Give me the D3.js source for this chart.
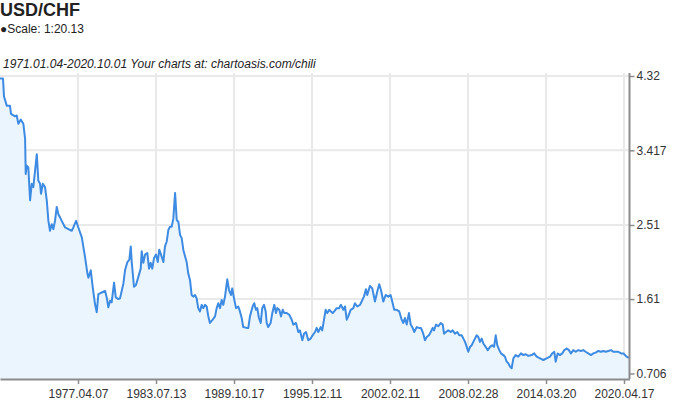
<!DOCTYPE html>
<html><head><meta charset="utf-8">
<script src="https://cdn.jsdelivr.net/npm/d3@7"></script>
<style>
body{margin:0;background:#fff}
svg{display:block}
text{font-family:Arial,"Liberation Sans",sans-serif}
</style>
</head><body>
<svg id="c" width="700" height="400"></svg>
<script>
const titleText = "USD/CHF";
const scaleText = "\u25CFScale: 1:20.13";
const subtitleText = "1971.01.04-2020.10.01 Your charts at: chartoasis.com/chili";
const startDate = "1971.01.04";
const endDate = "2020.10.01";
const xTickLabels = ["1977.04.07","1983.07.13","1989.10.17","1995.12.11","2002.02.11","2008.02.28","2014.03.20","2020.04.17"];
const yTickValues = [0.706, 1.61, 2.51, 3.417, 4.32];
const yTickLabels = ["0.706","1.61","2.51","3.417","4.32"];

// decimal years (time) and USD/CHF rates
const years = [
1971.01,1971.25,1971.33,1971.55,1971.81,1971.89,1972.21,1972.35,1972.48,1972.67,1972.88,1973.02,1973.07,1973.15,1973.28,1973.42,1973.55,1973.68,1973.82,1973.96,
1974.08,1974.22,1974.30,1974.44,1974.62,1974.76,1974.89,1975.02,1975.16,1975.29,1975.42,1975.56,1975.69,1975.83,1975.96,1976.23,1976.49,1976.76,1976.89,1977.11,
1977.29,1977.57,1977.83,1978.02,1978.10,1978.29,1978.45,1978.63,1978.77,1978.90,1979.17,1979.44,1979.57,1979.70,1979.84,1979.97,1980.16,1980.30,1980.50,1980.64,
1980.91,1981.04,1981.23,1981.39,1981.50,1981.58,1981.76,1981.92,1982.11,1982.30,1982.38,1982.51,1982.65,1982.83,1982.97,1983.10,1983.23,1983.37,1983.53,1983.67,
1983.79,1983.93,1984.12,1984.25,1984.39,1984.52,1984.65,1984.79,1984.92,1985.06,1985.19,1985.32,1985.46,1985.59,1985.72,1985.86,1985.99,1986.12,1986.26,1986.39,
1986.52,1986.66,1986.79,1986.92,1987.06,1987.20,1987.33,1987.46,1987.60,1987.73,1987.86,1988.08,1988.27,1988.40,1988.53,1988.67,1988.80,1988.93,1989.07,1989.25,
1989.39,1989.55,1989.65,1989.79,1989.95,1990.13,1990.26,1990.40,1990.52,1990.79,1990.92,1991.05,1991.26,1991.39,1991.52,1991.63,1991.76,1991.90,1992.02,1992.16,
1992.29,1992.37,1992.49,1992.68,1992.81,1992.97,1993.10,1993.20,1993.36,1993.50,1993.63,1993.76,1993.95,1994.15,1994.34,1994.47,1994.68,1994.86,1994.99,1995.18,
1995.31,1995.47,1995.65,1995.84,1995.99,1996.18,1996.31,1996.44,1996.63,1996.75,1996.89,1997.02,1997.15,1997.31,1997.44,1997.58,1997.70,1997.89,1998.08,1998.23,
1998.42,1998.55,1998.69,1998.81,1999.00,1999.21,1999.34,1999.52,1999.74,1999.87,2000.05,2000.21,2000.31,2000.53,2000.71,2000.92,2001.10,2001.26,2001.40,2001.58,
2001.77,2001.98,2002.16,2002.32,2002.44,2002.63,2002.83,2003.02,2003.14,2003.27,2003.41,2003.58,2003.72,2003.87,2003.99,2004.18,2004.36,2004.51,2004.69,2004.82,
2004.96,2005.13,2005.27,2005.42,2005.52,2005.68,2005.86,2006.04,2006.20,2006.30,2006.45,2006.63,2006.82,2006.97,2007.15,2007.33,2007.48,2007.67,2007.80,2007.93,
2008.06,2008.18,2008.32,2008.45,2008.57,2008.70,2008.83,2008.96,2009.09,2009.22,2009.35,2009.53,2009.69,2009.87,2010.04,2010.18,2010.31,2010.43,2010.59,2010.72,
2010.90,2011.03,2011.16,2011.29,2011.42,2011.55,2011.68,2011.86,2012.06,2012.27,2012.45,2012.64,2012.84,2013.10,2013.30,2013.49,2013.75,2014.01,2014.26,2014.52,
2014.70,2014.86,2014.97,2015.12,2015.30,2015.48,2015.64,2015.83,2016.00,2016.16,2016.34,2016.53,2016.73,2016.94,2017.12,2017.30,2017.51,2017.72,2017.90,2018.08,
2018.29,2018.50,2018.68,2018.86,2019.07,2019.28,2019.46,2019.64,2019.85,2020.06,2020.26,2020.37,2020.52,2020.65,2020.75
];
const values = [
4.29,4.29,4.07,3.96,3.96,3.86,3.83,3.84,3.74,3.79,3.74,3.56,3.13,3.23,3.21,2.81,3.01,2.97,3.17,3.37,
3.05,3.01,2.89,3.01,2.97,2.81,2.56,2.44,2.52,2.46,2.56,2.73,2.64,2.60,2.56,2.48,2.46,2.44,2.48,2.56,
2.48,2.36,2.12,1.92,1.87,1.96,1.75,1.55,1.45,1.67,1.69,1.71,1.63,1.51,1.59,1.57,1.81,1.63,1.61,1.62,
1.80,1.96,2.06,2.09,2.25,2.06,1.76,1.78,1.88,1.98,2.19,2.05,2.15,2.17,1.98,2.05,1.98,2.11,2.15,2.06,
2.21,2.15,2.06,2.25,2.31,2.45,2.49,2.49,2.59,2.90,2.57,2.55,2.39,2.35,2.21,2.13,2.06,1.92,1.84,1.66,
1.64,1.66,1.62,1.50,1.46,1.54,1.50,1.54,1.52,1.40,1.32,1.36,1.40,1.50,1.56,1.50,1.60,1.54,1.64,1.85,
1.72,1.66,1.74,1.62,1.50,1.52,1.46,1.38,1.27,1.26,1.26,1.40,1.52,1.56,1.48,1.50,1.38,1.32,1.50,1.54,
1.46,1.32,1.27,1.32,1.44,1.54,1.44,1.50,1.48,1.40,1.48,1.44,1.44,1.42,1.36,1.30,1.32,1.21,1.23,1.11,
1.19,1.21,1.11,1.13,1.17,1.21,1.26,1.21,1.27,1.23,1.36,1.48,1.44,1.48,1.46,1.44,1.46,1.50,1.50,1.54,
1.48,1.52,1.36,1.40,1.48,1.50,1.56,1.52,1.54,1.58,1.64,1.73,1.66,1.77,1.74,1.58,1.70,1.79,1.72,1.58,
1.66,1.64,1.66,1.56,1.48,1.48,1.46,1.36,1.32,1.38,1.30,1.44,1.30,1.26,1.21,1.27,1.26,1.26,1.19,1.11,
1.15,1.17,1.21,1.26,1.23,1.30,1.28,1.32,1.30,1.19,1.21,1.23,1.21,1.23,1.19,1.21,1.17,1.17,1.13,1.09,
1.03,0.97,1.03,1.05,1.09,1.13,1.17,1.15,1.09,1.13,1.07,1.03,0.99,1.03,1.05,1.03,1.17,1.05,0.99,0.95,
0.93,0.91,0.85,0.83,0.79,0.77,0.89,0.93,0.91,0.95,0.93,0.94,0.92,0.93,0.95,0.91,0.89,0.87,0.89,0.91,
0.95,0.97,0.85,0.95,0.93,0.95,0.99,1.01,0.99,0.95,0.99,0.97,0.99,0.98,0.99,0.97,0.95,0.93,0.95,0.96,
0.98,0.97,0.98,0.97,0.98,0.99,0.97,0.97,0.97,0.95,0.95,0.93,0.91,0.90,0.90
];

const parse = d3.timeParse("%Y.%m.%d");
function decToDate(y){
  const yr = Math.floor(y);
  const s = new Date(yr,0,1), e = new Date(yr+1,0,1);
  return new Date(+s + (y-yr)*(e-s));
}
const data = years.map((y,i)=>({date:decToDate(y), value:values[i]}));

const svg = d3.select("#c");
const plotLeft = 0, plotRight = 629.5, plotTop = 73, plotBottom = 379;
const tickStep = 78;

const tickDates = xTickLabels.map(parse);
const xDomain = [parse(startDate), ...tickDates, parse(endDate)];
const xRange = xDomain.map((d,i)=> i < xDomain.length-1 ? plotLeft + i*tickStep : plotRight);
const x = d3.scaleTime().domain(xDomain).range(xRange);
const y = d3.scaleLinear().domain([0.706, 4.32]).range([373.5, 76]);

// grid
const grid = svg.append("g");
grid.selectAll("line.v").data(tickDates).enter().append("line")
  .attr("x1",d=>x(d)).attr("x2",d=>x(d)).attr("y1",plotTop).attr("y2",plotBottom)
  .attr("stroke","#e9e9e9").attr("stroke-width",2);
grid.selectAll("line.h").data(yTickValues).enter().append("line")
  .attr("x1",plotLeft).attr("x2",plotRight).attr("y1",d=>y(d)).attr("y2",d=>y(d))
  .attr("stroke","#e9e9e9").attr("stroke-width",2);

// area + line
const area = d3.area().x(d=>x(d.date)).y0(plotBottom).y1(d=>y(d.value));
svg.append("path").datum(data).attr("d",area).attr("fill","#ebf5fe");
const line = d3.line().x(d=>x(d.date)).y(d=>y(d.value));
svg.append("path").datum(data).attr("d",line).attr("fill","none")
  .attr("stroke","#3d8be2").attr("stroke-width",2).attr("stroke-linejoin","round");

// axes
const xAxis = d3.axisBottom(x).tickValues(tickDates).tickFormat((d,i)=>xTickLabels[i]).tickSize(5).tickSizeOuter(0);
const gx = svg.append("g").attr("transform",`translate(0,${plotBottom})`).call(xAxis);
gx.select(".domain").attr("stroke","#8c8c8c").attr("stroke-width",2);
gx.selectAll(".tick line").attr("stroke","#8c8c8c").attr("stroke-width",1.5);
gx.selectAll(".tick text").attr("font-size",12).attr("fill","#333").attr("dy","0.95em")
  .style("font-family","Arial, 'Liberation Sans', sans-serif");

const yAxis = d3.axisRight(y).tickValues(yTickValues).tickFormat((d,i)=>yTickLabels[i]).tickSize(5).tickSizeOuter(0);
const gy = svg.append("g").attr("transform",`translate(${plotRight},0)`).call(yAxis);
gy.select(".domain").attr("d",`M0,${plotTop}V${plotBottom}`).attr("stroke","#8c8c8c").attr("stroke-width",2);
gy.selectAll(".tick line").attr("stroke","#8c8c8c").attr("stroke-width",1.5);
gy.selectAll(".tick text").attr("font-size",12).attr("fill","#333").attr("x",7)
  .style("font-family","Arial, 'Liberation Sans', sans-serif");

// titles
svg.append("text").attr("x",0).attr("y",16).attr("font-size",18).attr("font-weight","bold").attr("fill","#222").text(titleText);
svg.append("text").attr("x",0).attr("y",33).attr("font-size",12).attr("fill","#222").text(scaleText);
svg.append("text").attr("x",3).attr("y",68).attr("font-size",12).attr("font-style","italic").attr("fill","#222").text(subtitleText);
</script>
</body></html>
